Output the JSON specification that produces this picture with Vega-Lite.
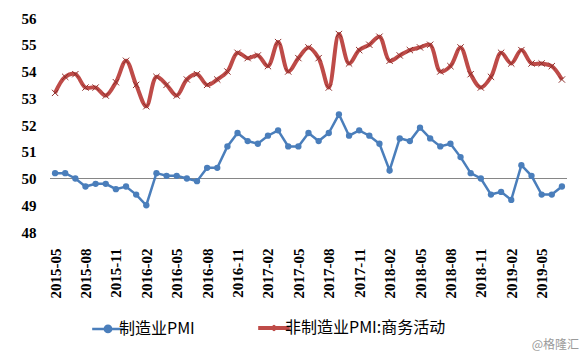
{
  "$schema": "https://vega.github.io/schema/vega-lite/v6.json",
  "autosize": "none",
  "width": 517,
  "height": 214,
  "padding": {"left": 50, "top": 18, "right": 18, "bottom": 130},
  "background": "white",
  "datasets": {
    "pmi": [
      {"m":"2015-05","s":"制造业PMI","v":50.2},{"m":"2015-06","s":"制造业PMI","v":50.2},{"m":"2015-07","s":"制造业PMI","v":50.0},{"m":"2015-08","s":"制造业PMI","v":49.7},{"m":"2015-09","s":"制造业PMI","v":49.8},{"m":"2015-10","s":"制造业PMI","v":49.8},{"m":"2015-11","s":"制造业PMI","v":49.6},{"m":"2015-12","s":"制造业PMI","v":49.7},
      {"m":"2016-01","s":"制造业PMI","v":49.4},{"m":"2016-02","s":"制造业PMI","v":49.0},{"m":"2016-03","s":"制造业PMI","v":50.2},{"m":"2016-04","s":"制造业PMI","v":50.1},{"m":"2016-05","s":"制造业PMI","v":50.1},{"m":"2016-06","s":"制造业PMI","v":50.0},{"m":"2016-07","s":"制造业PMI","v":49.9},{"m":"2016-08","s":"制造业PMI","v":50.4},{"m":"2016-09","s":"制造业PMI","v":50.4},{"m":"2016-10","s":"制造业PMI","v":51.2},{"m":"2016-11","s":"制造业PMI","v":51.7},{"m":"2016-12","s":"制造业PMI","v":51.4},
      {"m":"2017-01","s":"制造业PMI","v":51.3},{"m":"2017-02","s":"制造业PMI","v":51.6},{"m":"2017-03","s":"制造业PMI","v":51.8},{"m":"2017-04","s":"制造业PMI","v":51.2},{"m":"2017-05","s":"制造业PMI","v":51.2},{"m":"2017-06","s":"制造业PMI","v":51.7},{"m":"2017-07","s":"制造业PMI","v":51.4},{"m":"2017-08","s":"制造业PMI","v":51.7},{"m":"2017-09","s":"制造业PMI","v":52.4},{"m":"2017-10","s":"制造业PMI","v":51.6},{"m":"2017-11","s":"制造业PMI","v":51.8},{"m":"2017-12","s":"制造业PMI","v":51.6},
      {"m":"2018-01","s":"制造业PMI","v":51.3},{"m":"2018-02","s":"制造业PMI","v":50.3},{"m":"2018-03","s":"制造业PMI","v":51.5},{"m":"2018-04","s":"制造业PMI","v":51.4},{"m":"2018-05","s":"制造业PMI","v":51.9},{"m":"2018-06","s":"制造业PMI","v":51.5},{"m":"2018-07","s":"制造业PMI","v":51.2},{"m":"2018-08","s":"制造业PMI","v":51.3},{"m":"2018-09","s":"制造业PMI","v":50.8},{"m":"2018-10","s":"制造业PMI","v":50.2},{"m":"2018-11","s":"制造业PMI","v":50.0},{"m":"2018-12","s":"制造业PMI","v":49.4},
      {"m":"2019-01","s":"制造业PMI","v":49.5},{"m":"2019-02","s":"制造业PMI","v":49.2},{"m":"2019-03","s":"制造业PMI","v":50.5},{"m":"2019-04","s":"制造业PMI","v":50.1},{"m":"2019-05","s":"制造业PMI","v":49.4},{"m":"2019-06","s":"制造业PMI","v":49.4},{"m":"2019-07","s":"制造业PMI","v":49.7},
      {"m":"2015-05","s":"非制造业PMI:商务活动","v":53.2},{"m":"2015-06","s":"非制造业PMI:商务活动","v":53.8},{"m":"2015-07","s":"非制造业PMI:商务活动","v":53.9},{"m":"2015-08","s":"非制造业PMI:商务活动","v":53.4},{"m":"2015-09","s":"非制造业PMI:商务活动","v":53.4},{"m":"2015-10","s":"非制造业PMI:商务活动","v":53.1},{"m":"2015-11","s":"非制造业PMI:商务活动","v":53.6},{"m":"2015-12","s":"非制造业PMI:商务活动","v":54.4},
      {"m":"2016-01","s":"非制造业PMI:商务活动","v":53.5},{"m":"2016-02","s":"非制造业PMI:商务活动","v":52.7},{"m":"2016-03","s":"非制造业PMI:商务活动","v":53.8},{"m":"2016-04","s":"非制造业PMI:商务活动","v":53.5},{"m":"2016-05","s":"非制造业PMI:商务活动","v":53.1},{"m":"2016-06","s":"非制造业PMI:商务活动","v":53.7},{"m":"2016-07","s":"非制造业PMI:商务活动","v":53.9},{"m":"2016-08","s":"非制造业PMI:商务活动","v":53.5},{"m":"2016-09","s":"非制造业PMI:商务活动","v":53.7},{"m":"2016-10","s":"非制造业PMI:商务活动","v":54.0},{"m":"2016-11","s":"非制造业PMI:商务活动","v":54.7},{"m":"2016-12","s":"非制造业PMI:商务活动","v":54.5},
      {"m":"2017-01","s":"非制造业PMI:商务活动","v":54.6},{"m":"2017-02","s":"非制造业PMI:商务活动","v":54.2},{"m":"2017-03","s":"非制造业PMI:商务活动","v":55.1},{"m":"2017-04","s":"非制造业PMI:商务活动","v":54.0},{"m":"2017-05","s":"非制造业PMI:商务活动","v":54.5},{"m":"2017-06","s":"非制造业PMI:商务活动","v":54.9},{"m":"2017-07","s":"非制造业PMI:商务活动","v":54.5},{"m":"2017-08","s":"非制造业PMI:商务活动","v":53.4},{"m":"2017-09","s":"非制造业PMI:商务活动","v":55.4},{"m":"2017-10","s":"非制造业PMI:商务活动","v":54.3},{"m":"2017-11","s":"非制造业PMI:商务活动","v":54.8},{"m":"2017-12","s":"非制造业PMI:商务活动","v":55.0},
      {"m":"2018-01","s":"非制造业PMI:商务活动","v":55.3},{"m":"2018-02","s":"非制造业PMI:商务活动","v":54.4},{"m":"2018-03","s":"非制造业PMI:商务活动","v":54.6},{"m":"2018-04","s":"非制造业PMI:商务活动","v":54.8},{"m":"2018-05","s":"非制造业PMI:商务活动","v":54.9},{"m":"2018-06","s":"非制造业PMI:商务活动","v":55.0},{"m":"2018-07","s":"非制造业PMI:商务活动","v":54.0},{"m":"2018-08","s":"非制造业PMI:商务活动","v":54.2},{"m":"2018-09","s":"非制造业PMI:商务活动","v":54.9},{"m":"2018-10","s":"非制造业PMI:商务活动","v":53.9},{"m":"2018-11","s":"非制造业PMI:商务活动","v":53.4},{"m":"2018-12","s":"非制造业PMI:商务活动","v":53.8},
      {"m":"2019-01","s":"非制造业PMI:商务活动","v":54.7},{"m":"2019-02","s":"非制造业PMI:商务活动","v":54.3},{"m":"2019-03","s":"非制造业PMI:商务活动","v":54.8},{"m":"2019-04","s":"非制造业PMI:商务活动","v":54.3},{"m":"2019-05","s":"非制造业PMI:商务活动","v":54.3},{"m":"2019-06","s":"非制造业PMI:商务活动","v":54.2},{"m":"2019-07","s":"非制造业PMI:商务活动","v":53.7}
    ]
  },
  "data": {"name": "pmi"},
  "title": {
    "text": "@格隆汇",
    "orient": "bottom",
    "anchor": "end",
    "frame": "group",
    "fontSize": 12,
    "fontWeight": "normal",
    "color": "#9a9a9a",
    "font": "Noto Sans CJK SC",
    "offset": 2,
    "dx": 12
  },
  "encoding": {
    "x": {
      "field": "m",
      "type": "ordinal",
      "sort": null,
      "scale": {"type": "point", "padding": 0.5},
      "axis": {
        "title": null,
        "values": ["2015-05","2015-08","2015-11","2016-02","2016-05","2016-08","2016-11","2017-02","2017-05","2017-08","2017-11","2018-02","2018-05","2018-08","2018-11","2019-02","2019-05"],
        "labelAngle": 270,
        "labelFont": "Liberation Serif",
        "labelFontWeight": "bold",
        "labelFontSize": 15,
        "labelColor": "#000",
        "labelPadding": 16,
        "ticks": false,
        "domain": false,
        "grid": false
      }
    },
    "y": {
      "field": "v",
      "type": "quantitative",
      "scale": {"domain": [48, 56], "nice": false, "zero": false},
      "axis": {
        "title": null,
        "values": [48,49,50,51,52,53,54,55,56],
        "labelFont": "Liberation Serif",
        "labelFontWeight": "bold",
        "labelFontSize": 15,
        "labelColor": "#000",
        "labelPadding": 14,
        "ticks": false,
        "domain": false,
        "grid": false
      }
    }
  },
  "layer": [
    {
      "mark": {"type": "rule", "color": "#868686", "strokeWidth": 1},
      "encoding": {"x": null, "y": {"datum": 50}}
    },
    {
      "transform": [{"filter": "datum.s === '制造业PMI'"}],
      "mark": {"type": "line", "strokeWidth": 2.5, "color": "#4A7EBB"},
      "encoding": {
        "color": {
          "field": "s",
          "type": "nominal",
          "scale": {"domain": ["制造业PMI", "非制造业PMI:商务活动"], "range": ["#4A7EBB", "#BE4B48"]},
          "legend": {
            "title": null,
            "orient": "none",
            "direction": "horizontal",
            "legendX": 50,
            "legendY": 302,
            "padding": 0,
            "columnPadding": 55,
            "labelOffset": 3,
            "labelLimit": 400,
            "labelFont": "Noto Sans CJK SC",
            "labelFontSize": 16,
            "labelColor": "#000",
            "symbolSize": 1000,
            "symbolStrokeWidth": 2.5,
            "encode": {
              "symbols": {
                "update": {
                  "shape": {"signal": "datum.value === '制造业PMI' ? 'M-1,0L1,0M0.2,0A0.2,0.2 0 1 1 -0.2,0A0.2,0.2 0 1 1 0.2,0' : 'M-1,0L1,0M-0.12,-0.12L0.12,0.12M-0.12,0.12L0.12,-0.12'"},
                  "strokeWidth": {"signal": "datum.value === '制造业PMI' ? 2.5 : 4"},
                  "fill": {"signal": "datum.value === '制造业PMI' ? '#4A7EBB' : '#BE4B48'"},
                  "stroke": {"signal": "datum.value === '制造业PMI' ? '#4A7EBB' : '#BE4B48'"},
                  "opacity": {"value": 1},
                  "fillOpacity": {"value": 1}
                }
              }
            }
          }
        }
      }
    },
    {
      "transform": [{"filter": "datum.s === '制造业PMI'"}],
      "mark": {"type": "point", "shape": "circle", "filled": true, "size": 40, "color": "#4A7EBB", "opacity": 1}
    },
    {
      "transform": [{"filter": "datum.s !== '制造业PMI'"}],
      "mark": {"type": "line", "strokeWidth": 4, "color": "#BE4B48", "interpolate": "catmull-rom"},
      "encoding": {"color": {"field": "s", "type": "nominal"}}
    },
    {
      "transform": [{"filter": "datum.s !== '制造业PMI'"}],
      "mark": {"type": "point", "shape": "M-1,-1L1,1M-1,1L1,-1", "filled": false, "size": 40, "color": "#8E2F2C", "strokeWidth": 1, "opacity": 1}
    }
  ],
  "config": {"view": {"stroke": null}}
}
